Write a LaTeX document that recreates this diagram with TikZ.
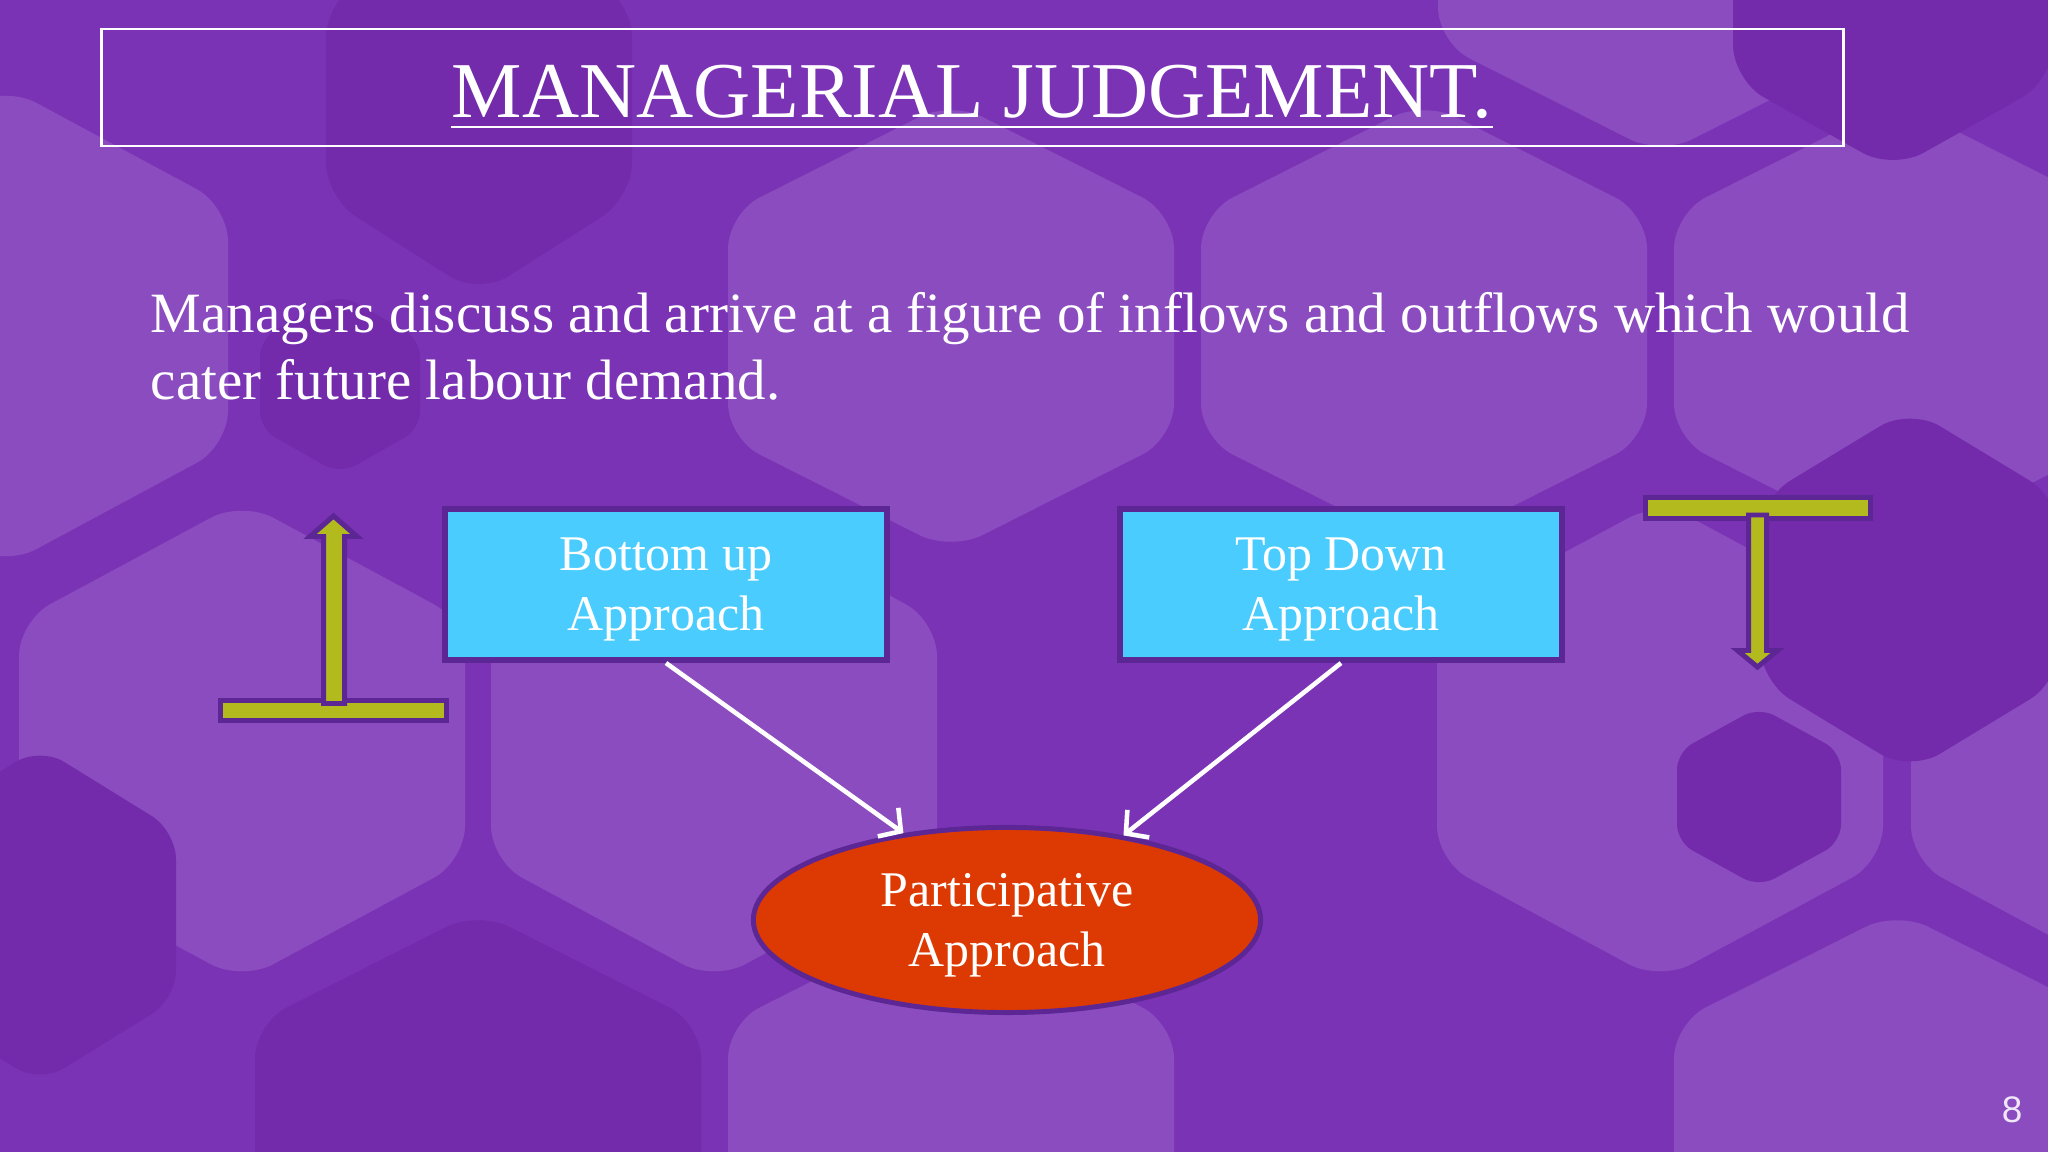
\documentclass[tikz,border=0pt]{standalone}
\usepackage{fontspec}
\setmainfont{Liberation Serif}
\newfontfamily\pgnumfont{Liberation Sans}
\usetikzlibrary{arrows.meta,shapes.geometric}
\definecolor{bgbase}{RGB}{123,51,181}
\definecolor{hexlight}{RGB}{139,76,191}
\definecolor{hexdark}{RGB}{115,43,172}
\definecolor{boxfill}{RGB}{74,205,254}
\definecolor{boxedge}{RGB}{92,38,148}
\definecolor{ovalfill}{RGB}{221,58,3}
\definecolor{tyellow}{RGB}{178,186,30}
\definecolor{tedge}{RGB}{92,38,148}
\definecolor{pagecol}{RGB}{240,232,248}
\newcommand\hexa[5]{\fill[rounded corners=10pt,#5] ({#1+#3},{#2-#4/2}) -- (#1,{#2-#4}) -- ({#1-#3},{#2-#4/2}) -- ({#1-#3},{#2+#4/2}) -- (#1,{#2+#4}) -- ({#1+#3},{#2+#4/2}) -- cycle;}
\tikzset{
  apbox/.style={draw=boxedge, line width=1.7pt, fill=boxfill, minimum width=4.42cm, minimum height=1.51cm, inner sep=0pt, text=white, align=center, text depth=-1pt, font=\fontsize{14.2}{17}\selectfont},
  apoval/.style={ellipse, draw=boxedge, line width=1.4pt, fill=ovalfill, minimum width=5.07cm, minimum height=1.85cm, inner sep=0pt, text=white, align=center, text depth=-1pt, font=\fontsize{14.2}{17}\selectfont},
  conn/.style={draw=white, line width=1.3pt, -{Straight Barb[length=4.5pt,width=10pt,line width=1.3pt]}},
  tarrow/.style={fill=tyellow, draw=tedge, line width=1.42pt, line join=miter},
  bodytext/.style={anchor=base west, inner sep=0pt, text=white, font=\fontsize{16.2}{19}\selectfont},
}
\begin{document}
\begin{tikzpicture}[x=0.01cm,y=-0.01cm]
\useasboundingbox (0,0) rectangle (2048,1152);
\fill[bgbase] (0,0) rectangle (2048,1152);
\begin{scope}
\clip (0,0) rectangle (2048,1152);
% row 0
\hexa{1661}{-70}{223}{225}{hexlight}
% row A
\hexa{5}{326}{223}{240}{hexlight}
\hexa{951}{326}{223}{225}{hexlight}
\hexa{1424}{326}{223}{225}{hexlight}
\hexa{1897}{326}{223}{225}{hexlight}
% row B
\hexa{242}{741}{223}{240}{hexlight}
\hexa{714}{741}{223}{240}{hexlight}
\hexa{1660}{741}{223}{240}{hexlight}
\hexa{2134}{741}{223}{240}{hexlight}
% row C
\hexa{478}{1136}{223}{225}{hexdark}
\hexa{951}{1136}{223}{225}{hexlight}
\hexa{1897}{1136}{223}{225}{hexlight}
% smaller dark hexagons
\hexa{479}{100}{153}{195}{hexdark}
\hexa{1893}{-10}{160}{180}{hexdark}
\hexa{340}{384}{80}{90}{hexdark,rounded corners=5pt}
\hexa{1910}{590}{150}{182}{hexdark}
\hexa{1759}{797}{82}{90}{hexdark,rounded corners=5pt}
\hexa{40}{915}{136}{168}{hexdark,rounded corners=8pt}
\end{scope}

% title
\node[draw=white, line width=0.6pt, minimum width=17.41cm, minimum height=1.176cm, inner sep=0pt] (tbox) at (972.5,87.5) {};
\node[anchor=base, inner sep=0pt, text=white, font=\fontsize{22.5}{27}\selectfont] (title) at (972,118) {MANAGERIAL JUDGEMENT.};
\draw[white, line width=0.75pt] ([yshift=-2.6pt]title.base west) -- ([yshift=-2.6pt]title.base east);

% body
\node[bodytext] (line1) at (150,333) {Managers discuss and arrive at a figure of inflows and outflows which would};
\node[bodytext] (line2) at (150,400) {cater future labour demand.};

% T arrows
\draw[tarrow] (220.5,700.5) rectangle (446.5,720.5);
\draw[tarrow] (323.5,703.5) -- (323.5,536.5) -- (310,536.5) -- (333.5,516) -- (357,536.5) -- (344.5,536.5) -- (344.5,703.5) -- cycle;
\draw[tarrow] (1645.5,497.5) rectangle (1870.5,518.5);
\draw[tarrow] (1748.5,515) -- (1748.5,650.5) -- (1737.5,650.5) -- (1757.5,667) -- (1777.5,650.5) -- (1766.5,650.5) -- (1766.5,515) -- cycle;

% boxes
\node[apbox] (bottomup) at (666,584.5) {Bottom up\\Approach};
\node[apbox] (topdown) at (1341,584.5) {Top Down\\Approach};
\node[apoval] (partic) at (1007,920) {Participative\\Approach};

\draw[conn] (bottomup.south) -- (partic.140.6);
\draw[conn] (topdown.south) -- (partic.36.5);

% page number
\node[anchor=base, inner sep=0pt, text=pagecol, font=\pgnumfont\fontsize{10.5}{12}\selectfont] (pagenum) at (2012,1122) {8};
\end{tikzpicture}
\end{document}
